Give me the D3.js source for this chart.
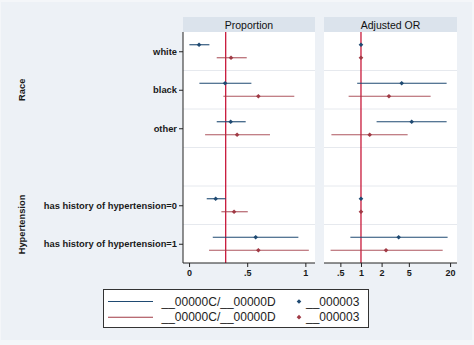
<!DOCTYPE html>
<html>
<head>
<meta charset="utf-8">
<script src="https://cdn.jsdelivr.net/npm/d3@7"></script>
<style>
  body { margin: 0; background: #f4f6f9; }
  svg { display: block; font-family: "Liberation Sans", Arial, sans-serif; }
</style>
</head>
<body>
<svg width="474" height="345"></svg>
<script>
var svg = d3.select("svg");
var width = +svg.attr("width");
var height = +svg.attr("height");

// rows, top to bottom ("" = empty spacer row)
var rows = ["white", "black", "other", "", "has history of hypertension=0", "has history of hypertension=1"];
var groups = [["Race", 0, 2], ["Hypertension", 4, 5]];
var seriesNames = ["blue", "red"];

// Proportion panel: [lo, point, hi] for each row, blue then red
var propBlue = [[0.003, 0.086, 0.175], [0.089, 0.31, 0.536], [0.238, 0.358, 0.487], null, [0.152, 0.229, 0.315], [0.204, 0.573, 0.94]];
var propRed  = [[0.238, 0.361, 0.496], [0.295, 0.596, 0.905], [0.138, 0.413, 0.696], null, [0.278, 0.387, 0.505], [0.172, 0.596, 1.03]];
var propRef = 0.315;
var propTicks = [0, 0.5, 1];

// Adjusted OR panel (log scale)
var orBlue = [[1, 1, 1], [0.88, 3.93, 17.8], [1.69, 5.5, 17.8], null, [1, 1, 1], [0.70, 3.55, 18.4]];
var orRed  = [[1, 1, 1], [0.66, 2.56, 10.4], [0.37, 1.34, 4.8], null, [1, 1, 1], [0.36, 2.32, 15.6]];
var orRef = 1;
var orTicks = [0.5, 1, 2, 5, 20];

var legendLines = ["__00000C/__00000D", "__00000C/__00000D"];
var legendDots = ["__000003", "__000003"];

var colors = { blue: "#1f4a72", red: "#a03a45" };
var refColor = "#c8183a";

// background
svg.append("rect").attr("x", 1).attr("y", 2).attr("width", width - 3).attr("height", height - 7)
   .attr("fill", "#edf1f6");

var plotTop = 32, plotBottom = 263;
var y = d3.scaleBand().domain(d3.range(rows.length)).range([plotTop, plotBottom]);

function shortNum(d) { return String(d).replace(/^0\./, "."); }

var panels = [
  { title: "Proportion", x0: 183, x1: 315,
    scale: d3.scaleLinear().domain([-0.052, 1.083]).range([183, 315]),
    blue: propBlue, red: propRed, ref: propRef, ticks: propTicks },
  { title: "Adjusted OR", x0: 324, x1: 457,
    scale: d3.scaleLog().domain([Math.pow(10, -0.54), Math.pow(10, 1.402)]).range([324, 457]),
    blue: orBlue, red: orRed, ref: orRef, ticks: orTicks }
];

panels.forEach(function(p) {
  // header strip
  svg.append("rect").attr("x", p.x0).attr("y", 17).attr("width", p.x1 - p.x0).attr("height", plotTop - 17)
     .attr("fill", "#dbe3ec");
  svg.append("text").attr("x", (p.x0 + p.x1) / 2).attr("y", 28.5).attr("text-anchor", "middle")
     .attr("font-size", 10.5).attr("fill", "#111").text(p.title);
  // plot area
  svg.append("rect").attr("x", p.x0).attr("y", plotTop).attr("width", p.x1 - p.x0).attr("height", plotBottom - plotTop)
     .attr("fill", "#fff");
  // row gridlines
  svg.append("g").selectAll("line").data(d3.range(1, rows.length)).enter().append("line")
     .attr("x1", p.x0).attr("x2", p.x1)
     .attr("y1", function(i) { return y(i); }).attr("y2", function(i) { return y(i); })
     .attr("stroke", "#e6e9ee").attr("stroke-width", 1);
  // reference line
  svg.append("line").attr("x1", p.scale(p.ref)).attr("x2", p.scale(p.ref))
     .attr("y1", plotTop).attr("y2", plotBottom).attr("stroke", refColor).attr("stroke-width", 1.3);

  seriesNames.forEach(function(s, si) {
    var data = p[s].map(function(d, i) { return d ? { i: i, v: d } : null; }).filter(Boolean);
    var dy = si === 0 ? -6.5 : 6.5;
    var g = svg.append("g");
    g.selectAll("line").data(data).enter().append("line")
     .attr("x1", function(d) { return p.scale(d.v[0]); })
     .attr("x2", function(d) { return p.scale(d.v[2]); })
     .attr("y1", function(d) { return y(d.i) + y.bandwidth() / 2 + dy; })
     .attr("y2", function(d) { return y(d.i) + y.bandwidth() / 2 + dy; })
     .attr("stroke", colors[s]).attr("stroke-width", 1.1).attr("opacity", s === "red" ? 0.85 : 1);
    g.selectAll("path").data(data).enter().append("path")
     .attr("d", d3.symbol(d3.symbolDiamond2, 14))
     .attr("transform", function(d) { return "translate(" + p.scale(d.v[1]) + "," + (y(d.i) + y.bandwidth() / 2 + dy) + ")"; })
     .attr("fill", colors[s]);
  });

  // x axis
  var ax = svg.append("g").attr("transform", "translate(0," + plotBottom + ")")
     .call(d3.axisBottom(p.scale).tickValues(p.ticks).tickFormat(shortNum).tickSize(4).tickPadding(3));
  ax.select(".domain").attr("d", "M" + p.x0 + ",0H" + p.x1).attr("stroke", "#222");
  ax.selectAll(".tick line").attr("stroke", "#222");
  ax.selectAll("text").attr("font-size", 9).attr("font-weight", "bold").attr("fill", "#1a1a1a")
    .attr("font-family", "Liberation Sans, Arial, sans-serif");
});

// y axis on the first panel
var yAxisScale = d3.scalePoint().domain(d3.range(rows.length))
   .range([plotTop + y.bandwidth() / 2, plotBottom - y.bandwidth() / 2]);
var yAx = svg.append("g").attr("transform", "translate(183,0)")
   .call(d3.axisLeft(yAxisScale).tickValues([0, 1, 2, 4, 5]).tickFormat(function(i) { return rows[i]; }).tickSize(4).tickPadding(2));
yAx.select(".domain").attr("d", "M0," + plotTop + "V" + plotBottom).attr("stroke", "#222");
yAx.selectAll(".tick line").attr("stroke", "#222");
yAx.selectAll("text").attr("font-size", 9.35).attr("font-weight", "bold").attr("fill", "#1a1a1a")
   .attr("font-family", "Liberation Sans, Arial, sans-serif");

// group labels
groups.forEach(function(gr) {
  var cy = (y(gr[1]) + y(gr[2]) + y.bandwidth()) / 2;
  svg.append("text").attr("transform", "translate(25," + cy + ") rotate(-90)")
     .attr("text-anchor", "middle").attr("font-size", 9.35).attr("font-weight", "bold")
     .attr("fill", "#1a1a1a").text(gr[0]);
});

// legend
var lg = svg.append("g");
lg.append("rect").attr("x", 103.5).attr("y", 289.5).attr("width", 265).attr("height", 38)
  .attr("fill", "#fff").attr("stroke", "#333").attr("stroke-width", 1);
seriesNames.forEach(function(s, i) {
  var ly = 301.5 + i * 15.7;
  lg.append("line").attr("x1", 108).attr("x2", 153).attr("y1", ly).attr("y2", ly)
    .attr("stroke", colors[s]).attr("stroke-width", 1.1);
  lg.append("text").attr("x", 161.5).attr("y", ly + 4.2).attr("font-size", 12).attr("fill", "#222").text(legendLines[i]);
  lg.append("path").attr("d", d3.symbol(d3.symbolDiamond2, 14)).attr("transform", "translate(299," + ly + ")")
    .attr("fill", colors[s]);
  lg.append("text").attr("x", 306).attr("y", ly + 4.2).attr("font-size", 12).attr("fill", "#222").text(legendDots[i]);
});
</script>
</body>
</html>
